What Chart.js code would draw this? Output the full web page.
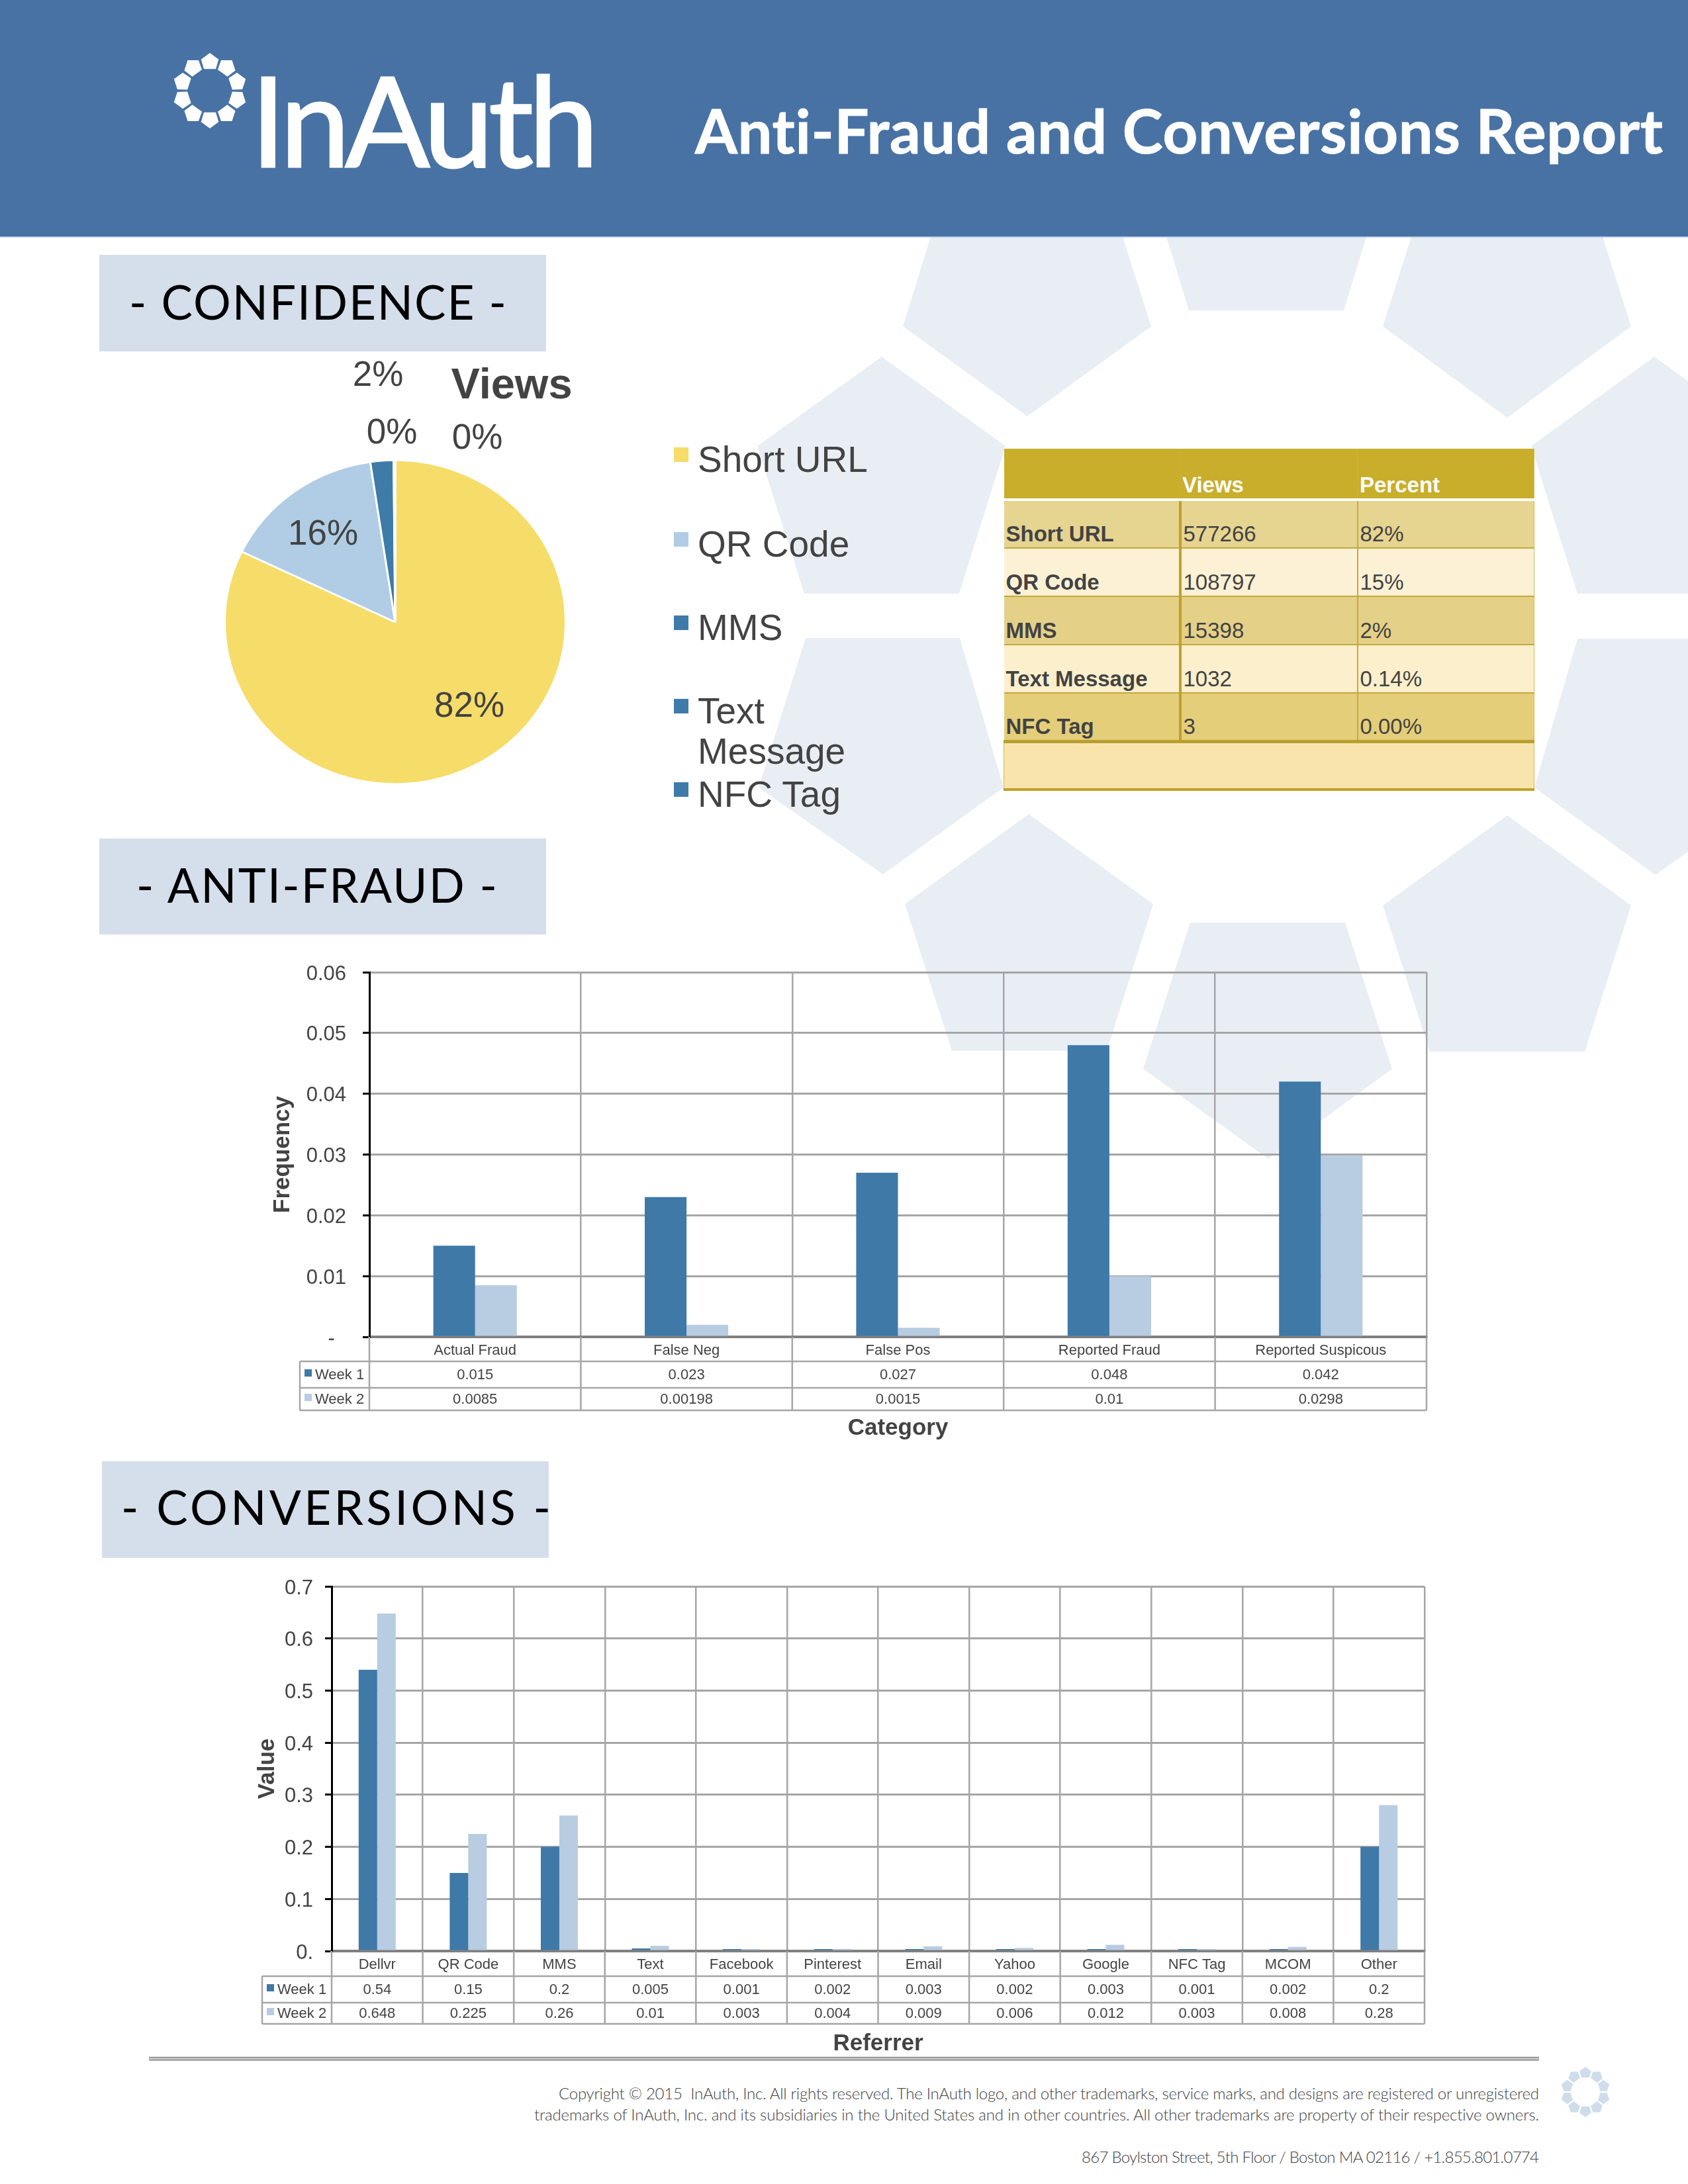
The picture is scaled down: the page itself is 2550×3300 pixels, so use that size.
<!DOCTYPE html>
<html>
<head>
<meta charset="utf-8">
<title>Anti-Fraud and Conversions Report</title>
<script src="https://cdn.jsdelivr.net/npm/chart.js@4/dist/chart.umd.min.js"></script>
<style>
html, body { margin: 0; padding: 0; background: #fff; }
#page { position: relative; width: 2550px; height: 3300px; overflow: hidden; font-family: "Liberation Sans", Arial, sans-serif; color: #434343; }
#page > svg { position: absolute; left: 0; top: 0; font-variant-ligatures: none; }
canvas { position: absolute; }
#legend div { position: absolute; left: 1054px; font-size: 55px; line-height: 61px; width: 280px; }
#legend i { position: absolute; left: -36px; top: 12px; width: 22px; height: 22px; }
#viewsTable { position: absolute; left: 1516px; top: 678px; width: 801px; height: 511px; border-collapse: collapse; table-layout: fixed; font-size: 33px; line-height: 33px; }
#viewsTable td, #viewsTable th { padding: 0 0 4px 3px; vertical-align: bottom; text-align: left; border-right: 2px solid #c8ab3c; border-bottom: 2px solid #c5a83a; }
#viewsTable td:first-child { font-weight: bold; border-right: 4px solid #bfa02c; }
#viewsTable td:last-child, #viewsTable th:last-child { border-right: 1px solid #d3b955; }
#viewsTable th { background: #c9ae2b; color: #fff; height: 71px; border-bottom: 4px solid #fff; border-right: 1px solid #ccb33a; }
#viewsTable tr { height: 73px; }
#viewsTable tr.last td { border-bottom: 5px solid #b99e30; }
#viewsTable tr.foot td { background: #f9e5ab; border: 1px solid #d3b955; border-bottom: 4px solid #bfa02c; }
</style>
</head>
<body>
<div id="page">
  <svg width="2550" height="3300" font-family="Lato, 'Open Sans', sans-serif">
    <g fill="#e9eef5">
      <polygon points="1364,493 1552,629 1739,493 1696,358 1406,358"/>
      <polygon points="1762,358 1796,469 2030,469 2064,358"/>
      <polygon points="2089,493 2277,631 2464,493 2421,358 2132,358"/>
      <polygon points="1332,539 1519,674 1449,897 1215,897 1144,674"/>
      <polygon points="2499,539 2685,674 2615,897 2383,897 2313,674"/>
      <polygon points="1217,964 1450,964 1516,1190 1334,1321 1146,1190"/>
      <polygon points="2383,965 2617,965 2685,1190 2501,1322 2318,1190"/>
      <polygon points="1554,1230 1742,1366 1672,1588 1438,1588 1367,1366"/>
      <polygon points="2277,1232 2464,1368 2394,1589 2160,1589 2089,1368"/>
      <polygon points="1798,1394 2032,1394 2103,1615 1916,1751 1727,1615"/>
    </g>
    <rect x="0" y="0" width="2550" height="358" fill="#4872a4"/>
    <rect x="0" y="357" width="2550" height="1.5" fill="#8fb0d3"/>
    <g id="bigLogo" fill="#fff" transform="translate(317,137)"></g>
    <text x="379" y="252" font-size="188" fill="#fff" stroke="#fff" stroke-width="3" textLength="525" lengthAdjust="spacing">InAuth</text>
    <text x="1050" y="232" font-size="92" font-weight="700" fill="#fff" stroke="#fff" stroke-width="1" textLength="1462" lengthAdjust="spacing">Anti-Fraud and Conversions Report</text>

    <rect x="150" y="385" width="675" height="146" fill="#d5dfeb"/>
    <text x="195" y="483" font-size="71" fill="#000" textLength="570" lengthAdjust="spacing">- CONFIDENCE -</text>
    <rect x="150" y="1267" width="675" height="145" fill="#d5dfeb"/>
    <text x="206" y="1364" font-size="71" fill="#000" textLength="545" lengthAdjust="spacing">- ANTI-FRAUD -</text>
    <rect x="154" y="2208" width="675" height="146" fill="#d5dfeb"/>
    <text x="183" y="2304" font-size="71" fill="#000" textLength="649" lengthAdjust="spacing">- CONVERSIONS -</text>

    <rect x="225" y="3108" width="2100" height="1" fill="#444"/>
    <rect x="225" y="3110" width="2100" height="4" fill="#acacac"/>
    <g id="smallLogo" fill="#cfddeb" transform="translate(2395,3161) scale(0.667)"></g>
    <g font-size="24" font-weight="300" fill="#3f4042" text-anchor="end">
      <text x="2325" y="3172" textLength="1481" lengthAdjust="spacing" xml:space="preserve">Copyright © 2015  InAuth, Inc. All rights reserved. The InAuth logo, and other trademarks, service marks, and designs are registered or unregistered</text>
      <text x="2325" y="3204" textLength="1518" lengthAdjust="spacing">trademarks of InAuth, Inc. and its subsidiaries in the United States and in other countries. All other trademarks are property of their respective owners.</text>
      <text x="2325" y="3268" textLength="691" lengthAdjust="spacing">867 Boylston Street, 5th Floor / Boston MA 02116 / +1.855.801.0774</text>
    </g>
  </svg>

  <canvas id="viewsPie" width="620" height="700" style="left:300px;top:520px"></canvas>
  <div id="legend"></div>
  <table id="viewsTable"></table>
  <canvas id="fraudChart" width="1800" height="760" style="left:380px;top:1440px"></canvas>
  <canvas id="conversionChart" width="1840" height="760" style="left:340px;top:2370px"></canvas>
</div>

<script>
// confidence pie + table
const sourceNames = ['Short URL', 'QR Code', 'MMS', 'Text Message', 'NFC Tag'];
const sourceViews = [577266, 108797, 15398, 1032, 3];
const sourcePercents = ['82%', '15%', '2%', '0.14%', '0.00%'];
const pieLabels = ['82%', '16%', '2%', '0%', '0%'];
const pieColors = ['#f6dc69', '#b0cde5', '#3e7ba9', '#3e7ba9', '#3e7ba9'];

// anti-fraud bars
const fraudCategories = ['Actual Fraud', 'False Neg', 'False Pos', 'Reported Fraud', 'Reported Suspicous'];
const fraudWeek1 = [0.015, 0.023, 0.027, 0.048, 0.042];
const fraudWeek2 = [0.0085, 0.00198, 0.0015, 0.01, 0.0298];
const fraudTicks = ['-  ', '0.01', '0.02', '0.03', '0.04', '0.05', '0.06'];

// conversion bars
const referrers = ['Dellvr', 'QR Code', 'MMS', 'Text', 'Facebook', 'Pinterest', 'Email', 'Yahoo', 'Google', 'NFC Tag', 'MCOM', 'Other'];
const convWeek1 = [0.54, 0.15, 0.2, 0.005, 0.001, 0.002, 0.003, 0.002, 0.003, 0.001, 0.002, 0.2];
const convWeek2 = [0.648, 0.225, 0.26, 0.01, 0.003, 0.004, 0.009, 0.006, 0.012, 0.003, 0.008, 0.28];
const convTicks = ['0.', '0.1', '0.2', '0.3', '0.4', '0.5', '0.6', '0.7'];

const BLUE = '#3e79a8';
const PALE = '#b8cce2';
const GRID = '#a6a6a6';
const TEXT = '#434343';
const FONT = '"Liberation Sans", Arial, sans-serif';

// logo ring, one pentagon turned ten times
['bigLogo', 'smallLogo'].forEach(function(id) {
    const group = document.getElementById(id);
    for (let i = 0; i < 10; i++) {
        const p = document.createElementNS('http://www.w3.org/2000/svg', 'polygon');
        p.setAttribute('points', '0,-57 13.3,-47.3 9,-32.7 -9,-32.7 -13.3,-47.3');
        p.setAttribute('transform', 'rotate(' + (i * 36) + ')');
        group.appendChild(p);
    }
});

// legend next to the pie
const legendTops = [664, 792, 918, 1044, 1170];
const legend = document.getElementById('legend');
sourceNames.forEach(function(name, i) {
    const item = document.createElement('div');
    item.style.top = legendTops[i] + 'px';
    item.innerHTML = '<i style="background:' + pieColors[i] + '"></i>' + name;
    legend.appendChild(item);
});

// views table
const table = document.getElementById('viewsTable');
let rowsHtml = '<colgroup><col style="width:266px"><col style="width:268px"><col style="width:267px"></colgroup>';
rowsHtml += '<tr><th></th><th>Views</th><th>Percent</th></tr>';
const rowColors = ['#e6d491', '#fcf1d5', '#e5d088', '#fcefcb', '#e5ce7a'];
sourceNames.forEach(function(name, i) {
    rowsHtml += '<tr' + (i === 4 ? ' class="last"' : '') + ' style="background:' + rowColors[i] + '">' +
        '<td>' + name + '</td><td>' + sourceViews[i] + '</td><td>' + sourcePercents[i] + '</td></tr>';
});
rowsHtml += '<tr class="foot"><td colspan="3"></td></tr>';
table.innerHTML = rowsHtml;

// percent labels + chart title sit where the original put them
const pieLabelSpots = [[409, 548], [188, 288], [271, 48], [292, 135], [421, 143]];
const PIE_SQUASH = 0.95; // the original pie is slightly flattened
const pieText = {
    id: 'pieText',
    beforeDatasetsDraw: function(chart) {
        const c = chart.ctx;
        const a = chart.chartArea;
        const midY = (a.top + a.bottom) / 2;
        c.save();
        c.translate(0, midY);
        c.scale(1, PIE_SQUASH);
        c.translate(0, -midY);
    },
    afterDatasetsDraw: function(chart) {
        chart.ctx.restore();
    },
    afterDraw: function(chart) {
        const c = chart.ctx;
        c.save();
        c.fillStyle = TEXT;
        c.textAlign = 'center';
        c.textBaseline = 'middle';
        c.font = '53px ' + FONT;
        pieLabels.forEach(function(label, i) {
            c.fillText(label, pieLabelSpots[i][0], pieLabelSpots[i][1]);
        });
        c.font = 'bold 65px ' + FONT;
        c.fillText('Views', 473, 64);
        c.restore();
    }
};

new Chart(document.getElementById('viewsPie'), {
    type: 'pie',
    data: {
        labels: sourceNames,
        datasets: [{ data: sourceViews, backgroundColor: pieColors, borderColor: '#fff', borderWidth: 3 }]
    },
    options: {
        responsive: false,
        animation: false,
        layout: { padding: { left: 38, right: 64, top: 161, bottom: 21 } },
        plugins: { legend: { display: false }, tooltip: { enabled: false } }
    },
    plugins: [pieText]
});

// data table under the x axis, lined up with the category scale
const dataTable = {
    id: 'dataTable',
    afterDraw: function(chart, args, opts) {
        const c = chart.ctx;
        const area = chart.chartArea;
        const xs = chart.scales.x;
        const rows = opts.rows;
        c.save();
        c.strokeStyle = GRID;
        c.lineWidth = 2.5;
        c.beginPath();
        rows.forEach(function(y) {
            c.moveTo(opts.left, y);
            c.lineTo(area.right, y);
        });
        c.moveTo(opts.left, rows[0]);
        c.lineTo(opts.left, rows[2]);
        const step = xs.getPixelForValue(1) - xs.getPixelForValue(0);
        xs.ticks.forEach(function(t, i) {
            const x = xs.getPixelForValue(i) - step / 2;
            c.moveTo(x, area.bottom);
            c.lineTo(x, rows[2]);
        });
        c.moveTo(area.right, area.bottom);
        c.lineTo(area.right, rows[2]);
        c.stroke();

        c.font = '22px ' + FONT;
        c.fillStyle = TEXT;
        c.textBaseline = 'middle';
        chart.data.datasets.forEach(function(ds, d) {
            const mid = (rows[d] + rows[d + 1]) / 2;
            c.fillStyle = ds.backgroundColor;
            c.fillRect(opts.left + 7, mid - 8, 11, 11);
            c.fillStyle = TEXT;
            c.textAlign = 'left';
            c.fillText(ds.label, opts.left + 23, mid + 1);
            c.textAlign = 'center';
            ds.data.forEach(function(v, i) {
                c.fillText(String(v), xs.getPixelForValue(i), mid + 1);
            });
        });
        c.restore();
    }
};

function barChart(canvasId, labels, week1, week2, yMax, yStep, tickLabels, xTitle, yTitle, box) {
    return new Chart(document.getElementById(canvasId), {
        type: 'bar',
        data: {
            labels: labels,
            datasets: [
                { label: 'Week 1', data: week1, backgroundColor: BLUE },
                { label: 'Week 2', data: week2, backgroundColor: PALE }
            ]
        },
        options: {
            responsive: false,
            animation: false,
            layout: { padding: { left: 0, right: box.right, top: box.top, bottom: 0 } },
            plugins: {
                legend: { display: false },
                tooltip: { enabled: false },
                dataTable: { left: box.tableLeft, rows: box.rows }
            },
            scales: {
                x: {
                    grid: { color: GRID, lineWidth: 2.5, offset: true, drawTicks: false },
                    border: { color: '#808080', width: 4 },
                    ticks: {
                        autoSkip: false, maxRotation: 0, padding: 8,
                        color: TEXT, font: { size: 22, family: FONT }
                    },
                    title: {
                        display: true, text: xTitle, color: TEXT,
                        font: { size: 35, weight: 'bold', family: FONT },
                        padding: { top: 0, bottom: 21 }
                    },
                    afterFit: function(scale) { scale.height = box.xHeight; }
                },
                y: {
                    min: 0,
                    max: yMax,
                    grid: { color: GRID, lineWidth: 3, tickColor: '#000', tickLength: 10, tickWidth: 3 },
                    border: { color: '#000', width: 3 },
                    ticks: {
                        stepSize: yStep, padding: box.tickPad, labelOffset: 3, color: TEXT,
                        font: { size: 31, family: FONT },
                        callback: function(v, i) { return tickLabels[i]; }
                    },
                    title: {
                        display: true, text: yTitle, color: TEXT,
                        font: { size: 35, weight: 'bold', family: FONT },
                        padding: { top: box.titlePad, bottom: 0 }
                    },
                    afterFit: function(scale) {
                        scale.width = box.yWidth;
                        scale.paddingTop = 0;
                        scale.paddingBottom = 0;
                    }
                }
            },
            datasets: { bar: { categoryPercentage: box.catPct, barPercentage: 1, minBarLength: box.minBar } }
        },
        plugins: [dataTable]
    });
}

barChart('fraudChart', fraudCategories, fraudWeek1, fraudWeek2, 0.06, 0.01, fraudTicks, 'Category', 'Frequency', {
    right: 25, top: 29, xHeight: 180, yWidth: 178, tableLeft: 73, rows: [617, 657, 691],
    tickPad: 25, titlePad: 26, catPct: 0.395, minBar: 0
});
barChart('conversionChart', referrers, convWeek1, convWeek2, 0.7, 0.1, convTicks, 'Referrer', 'Value', {
    right: 28, top: 27, xHeight: 182, yWidth: 161, tableLeft: 56, rows: [616, 656, 688],
    tickPad: 18, titlePad: 43, catPct: 0.407, minBar: 3
});
</script>
</body>
</html>
